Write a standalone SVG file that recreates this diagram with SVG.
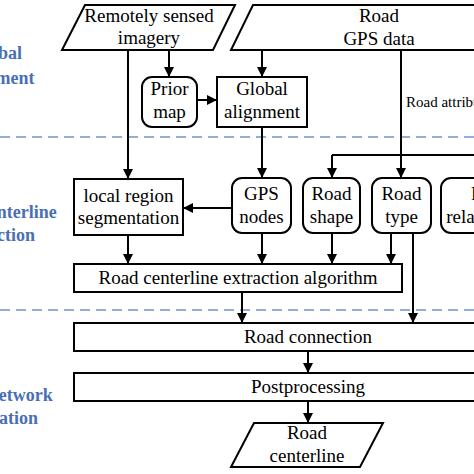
<svg xmlns="http://www.w3.org/2000/svg" width="474" height="474" viewBox="0 0 474 474">
<defs>
<marker id="ah" markerWidth="10" markerHeight="10" refX="10" refY="5" orient="auto" markerUnits="userSpaceOnUse">
<path d="M0,0 L10,5 L0,10 Z" fill="#000"/>
</marker>
<style>
.box{fill:#fff;stroke:#000;stroke-width:2}
.t{font-family:"Liberation Serif","Times New Roman",serif;font-size:19px;fill:#000;text-anchor:middle}
.ts{font-family:"Liberation Serif","Times New Roman",serif;font-size:15px;fill:#000}
.lab{font-family:"Liberation Serif","Times New Roman",serif;font-size:18px;font-weight:bold;fill:#4a6fb5;text-anchor:middle}
.ln{fill:none;stroke:#000;stroke-width:2}
.ar{fill:none;stroke:#000;stroke-width:2;marker-end:url(#ah)}
.dash{fill:none;stroke:#7393c4;stroke-width:1.6;stroke-dasharray:10 6}
</style>
</defs>
<rect width="474" height="474" fill="#fff"/>
<g id="separators">
<line class="dash" x1="0" y1="137" x2="474" y2="137"/>
<line class="dash" x1="0" y1="310" x2="474" y2="310"/>
</g>
<g id="stage-labels">
<text class="lab" x="-4" y="59">Global</text>
<text class="lab" x="-4" y="84">alignment</text>
<text class="lab" x="-4" y="218">Road centerline</text>
<text class="lab" x="-4" y="241">extraction</text>
<text class="lab" x="-2" y="401">Road network</text>
<text class="lab" x="-3" y="424">generation</text>
</g>
<g id="connectors">
<line class="ar" x1="169" y1="50" x2="169" y2="77"/>
<line class="ar" x1="128" y1="50" x2="128" y2="179"/>
<line class="ar" x1="262" y1="50" x2="262" y2="77"/>
<line class="ar" x1="197" y1="100" x2="217" y2="100"/>
<line class="ar" x1="262" y1="127" x2="262" y2="178"/>
<line class="ar" x1="401" y1="50" x2="401" y2="178"/>
<line class="ln" x1="332" y1="155" x2="474" y2="155"/>
<line class="ar" x1="332" y1="155" x2="332" y2="178"/>
<line class="ar" x1="491" y1="155" x2="491" y2="178"/>
<line class="ar" x1="232" y1="208" x2="183" y2="208"/>
<line class="ar" x1="128" y1="235" x2="128" y2="264"/>
<line class="ar" x1="262" y1="233" x2="262" y2="264"/>
<line class="ar" x1="332" y1="233" x2="332" y2="264"/>
<line class="ar" x1="391" y1="233" x2="391" y2="264"/>
<line class="ar" x1="413" y1="233" x2="413" y2="323"/>
<line class="ar" x1="242" y1="292" x2="242" y2="323"/>
<line class="ar" x1="308" y1="351" x2="308" y2="373"/>
<line class="ar" x1="308" y1="401" x2="308" y2="423"/>
<text class="ts" x="406" y="107">Road attributes</text>
</g>
<g id="imagery">
<polygon class="box" points="85,5 235,5 213,50 62,50"/>
<text class="t" x="149" y="22">Remotely sensed</text>
<text class="t" x="149" y="44">imagery</text>
</g>
<g id="gps-data">
<polygon class="box" points="253,5 530,5 507,50 231,50"/>
<text class="t" x="379" y="22">Road</text>
<text class="t" x="379" y="45">GPS data</text>
</g>
<g id="prior-map">
<rect class="box" x="142" y="77" width="55" height="50" rx="10"/>
<text class="t" x="169.5" y="95">Prior</text>
<text class="t" x="169.5" y="118">map</text>
</g>
<g id="global-alignment">
<rect class="box" x="217" y="77" width="90" height="50"/>
<text class="t" x="262" y="95">Global</text>
<text class="t" x="262" y="118">alignment</text>
</g>
<g id="local-seg">
<rect class="box" x="74" y="179" width="109" height="56"/>
<text class="t" x="128.5" y="202">local region</text>
<text class="t" x="128.5" y="224">segmentation</text>
</g>
<g id="gps-nodes">
<rect class="box" x="232" y="178" width="59" height="55" rx="10"/>
<text class="t" x="261.5" y="200">GPS</text>
<text class="t" x="261.5" y="223">nodes</text>
</g>
<g id="road-shape">
<rect class="box" x="303" y="178" width="57" height="55" rx="10"/>
<text class="t" x="331.5" y="200">Road</text>
<text class="t" x="331.5" y="223">shape</text>
</g>
<g id="road-type">
<rect class="box" x="372" y="178" width="59" height="55" rx="10"/>
<text class="t" x="401.5" y="200">Road</text>
<text class="t" x="401.5" y="223">type</text>
</g>
<g id="road-relation">
<rect class="box" x="441" y="178" width="100" height="55" rx="10"/>
<text class="t" x="491" y="200">Road</text>
<text class="t" x="491" y="223">relationship</text>
</g>
<g id="extraction">
<rect class="box" x="74" y="264" width="328" height="28"/>
<text class="t" x="238" y="284">Road centerline extraction algorithm</text>
</g>
<g id="road-connection">
<rect class="box" x="74" y="323" width="468" height="28"/>
<text class="t" x="308" y="343">Road connection</text>
</g>
<g id="postprocessing">
<rect class="box" x="74" y="373" width="468" height="28"/>
<text class="t" x="308" y="393">Postprocessing</text>
</g>
<g id="road-centerline">
<polygon class="box" points="254,423 383,423 360,467 231,467"/>
<text class="t" x="307" y="439">Road</text>
<text class="t" x="307" y="462">centerline</text>
</g>
</svg>
